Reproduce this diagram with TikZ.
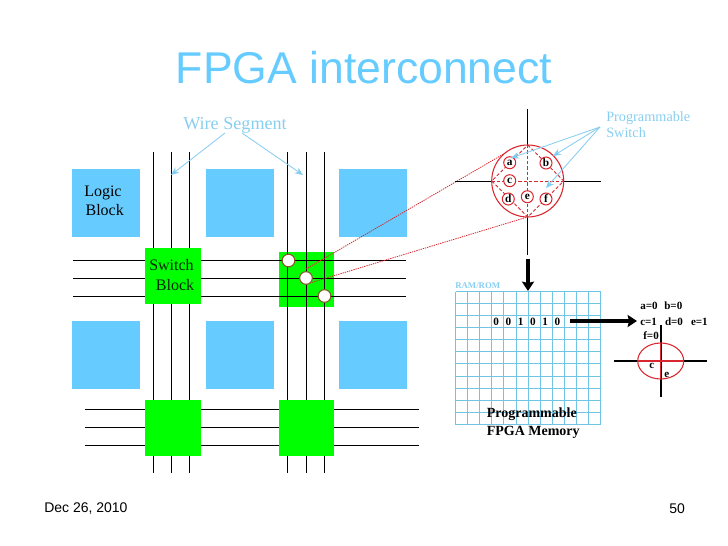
\documentclass[tikz,border=0pt]{standalone}
\usepackage{fontspec}
\setmainfont{Liberation Serif}
\newfontfamily\arialf{Liberation Sans}
\usetikzlibrary{arrows.meta}
\definecolor{lblue}{HTML}{66CCFF}
\definecolor{sgreen}{HTML}{00FF00}
\definecolor{gridc}{HTML}{70C4E4}
\definecolor{arrc}{HTML}{88CEF0}
\definecolor{redc}{HTML}{D9262E}
\tikzset{
  logicblock/.style={fill=lblue,draw=none},
  switchblock/.style={fill=sgreen,draw=none},
  wire/.style={black,line width=0.85pt},
  callout/.style={arrc,line width=0.65pt,-{Stealth[length=6pt,width=5pt,fill=lblue]}},
  reddash/.style={redc,line width=0.6pt,dash pattern=on 2.5pt off 1.5pt},
  reddot/.style={redc,line width=0.6pt,dash pattern=on 1pt off 0.7pt},
  pin/.style={circle,draw=redc,line width=0.75pt,fill=white,minimum size=9pt,inner sep=0pt,font=\fontsize{8.5pt}{9pt}\selectfont\bfseries},
  junction/.style={circle,draw=brown!70!black,line width=0.8pt,fill=white,minimum size=9.5pt,inner sep=0pt},
  heavy/.style={black,line width=3pt,-{Stealth[length=7pt,width=9pt,inset=1pt]}},
  gridline/.style={gridc,line width=0.85pt},
  lab/.style={inner sep=0pt,align=left,anchor=west},
  boldlab/.style={lab,font=\fontsize{8.3pt}{9pt}\selectfont\bfseries}
}
\begin{document}
\begin{tikzpicture}[x=0.75pt,y=-0.75pt]
\useasboundingbox (0,0) rectangle (728,546);
% logic blocks
\foreach \n/\x/\y in {a/72/169,b/206/169,c/339/169,d/72/321,e/206/321,f/339/321}
  \fill[logicblock] (\x,\y) rectangle ++(68,68);
% switch blocks
\fill[switchblock] (145,248) rectangle (201,304);
\fill[switchblock] (279,252) rectangle (334,307);
% wires
\foreach \x in {153.5,171.5,189.5}{
  \draw[wire] (\x,152) -- (\x,248);
  \draw[wire] (\x,304) -- (\x,400);
  \draw[wire] (\x,456) -- (\x,473);
}
\foreach \x in {287.5,306.5,324.5}{
  \draw[wire] (\x,152) -- (\x,400);
  \draw[wire] (\x,456) -- (\x,473);
}
\foreach \y in {260.5,278.5,296.5}{
  \draw[wire] (73,\y) -- (145,\y);
  \draw[wire] (201,\y) -- (406,\y);
}
\foreach \y in {409.5,427.5,445.5}{
  \draw[wire] (85,\y) -- (145,\y);
  \draw[wire] (201,\y) -- (279,\y);
  \draw[wire] (334,\y) -- (419,\y);
}
\fill[switchblock] (145,400) rectangle (201,456);
\fill[switchblock] (279,400) rectangle (334,456);
% texts on blocks
\node[lab,font=\fontsize{12pt}{14pt}\selectfont] (logictext) at (84,201) {Logic\\\hspace{1pt}Block};
\node[lab,font=\fontsize{12pt}{15pt}\selectfont,text=black!85!green] (switchtext) at (149,275) {Switch\\\hspace{5pt}Block};
% title
\node[inner sep=0pt,text=lblue,font=\arialf\fontsize{33.4pt}{36pt}\selectfont] (title) at (364,68) {FPGA interconnect};
\node[lab,text=arrc,font=\fontsize{13.6pt}{15pt}\selectfont] (wiretext) at (183,125) {Wire Segment};
\coordinate (wa) at (225,133);
\coordinate (wb) at (242,133);
\coordinate (wc) at (171,175);
\coordinate (wd) at (303,175);
\draw[callout] (wa) -- (wc);
\draw[callout] (wb) -- (wd);
% junctions zoom lines
\coordinate (j2a) at (306,269);
\coordinate (j2b) at (310,283);
\coordinate (ctop) at (507,152);
\coordinate (cbot) at (527.5,217);
\draw[reddot] (j2a) -- (ctop);
\draw[reddot] (j2b) -- (cbot);
\node[junction] (j1) at (288.5,260.5) {};
\node[junction] (j2n) at (306,278) {};
\node[junction] (j3) at (324.5,296) {};
% big circle
\draw[wire] (455,181.5) -- (600.7,181.5);
\draw[wire] (527.5,109) -- (527.5,255);
\coordinate (cc) at (527.7,181);
\fill[white] (cc) circle[radius=36];
\draw[redc,line width=0.8pt] (cc) circle[radius=36];
\coordinate (t) at (527.7,145);
\coordinate (b) at (527.7,217);
\coordinate (l) at (491.7,181);
\coordinate (r) at (563.7,181);
\draw[reddash] (t) -- (r) -- (b) -- (l) -- cycle;
\draw[reddash] (t) -- (b);
\draw[reddash] (l) -- (r);
\node[pin] (pa) at (509.7,162.7) {a};
\node[pin] (pb) at (546,163) {b};
\node[pin] (pc) at (509.7,180.7) {c};
\node[pin] (pd) at (508.3,199) {d};
\node[pin] (pe) at (527.3,196.7) {e};
\node[pin] (pf) at (546,199) {f};
% programmable switch
\node[lab,text=arrc,font=\fontsize{10.7pt}{12.5pt}\selectfont] (progsw) at (606,124.5) {Programmable\\Switch};
\coordinate (ps) at (600,127);
\draw[callout] (ps) -- (511,158);
\draw[callout] (ps) -- (553,156);
\draw[callout] (ps) -- (546,188);
% heavy arrow down
\coordinate (h1) at (528,259);
\coordinate (h2) at (528,291);
\draw[heavy] (h1) -- (h2);
% memory grid
\foreach \x in {455.5,467.5,479.5,491.5,503.5,516.5,528.5,540.5,552.5,564.5,576.5,588.5,600.5}
  \draw[gridline] (\x,291.5) -- (\x,424.5);
\foreach \y in {291.5,303.5,315.5,327.5,339.5,351.5,363.5,376.5,388.5,400.5,412.5,424.5}
  \draw[gridline] (455.5,\y) -- (600.5,\y);
\node[lab,text=arrc,font=\fontsize{6.6pt}{8pt}\selectfont\bfseries] (ram) at (455,285.5) {RAM/ROM};
\node[boldlab,font=\fontsize{8.4pt}{9pt}\selectfont\bfseries] (bits) at (493,322) {0\hspace{5pt}0\hspace{5pt}1\hspace{5pt}0\hspace{5pt}1\hspace{5pt}0};
\node[lab,font=\fontsize{10.5pt}{13.5pt}\selectfont\bfseries] (mem) at (486.5,423) {Programmable\\FPGA Memory};
% heavy arrow right
\coordinate (h3) at (570,321);
\coordinate (h4) at (637,321);
\draw[heavy] (h3) -- (h4);
\node[boldlab] (s1) at (640,306) {a=0\hspace{5pt}b=0};
\node[boldlab] (s2) at (640,321.5) {c=1\hspace{6pt}d=0\hspace{6pt}e=1};
\node[boldlab] (s3) at (643,336) {f=0};
% small switch
\draw[wire] (614,361) -- (706.7,361);
\draw[wire] (661,325) -- (661,397);
\draw[redc,line width=0.8pt] (660.7,361) ellipse[x radius=23,y radius=18];
\draw[redc,line width=0.8pt] (637.7,361) -- (683.7,361);
\draw[redc,line width=0.8pt] (660.7,343) -- (660.7,379);
\node[boldlab] (sc) at (649,366) {c};
\node[boldlab] (se) at (664,375) {e};
% footer
\node[lab,font=\arialf\fontsize{10.5pt}{12pt}\selectfont] (date) at (44,508.5) {Dec 26, 2010};
\node[lab,font=\arialf\fontsize{10.5pt}{12pt}\selectfont] (page) at (669,508.5) {50};
\end{tikzpicture}
\end{document}
